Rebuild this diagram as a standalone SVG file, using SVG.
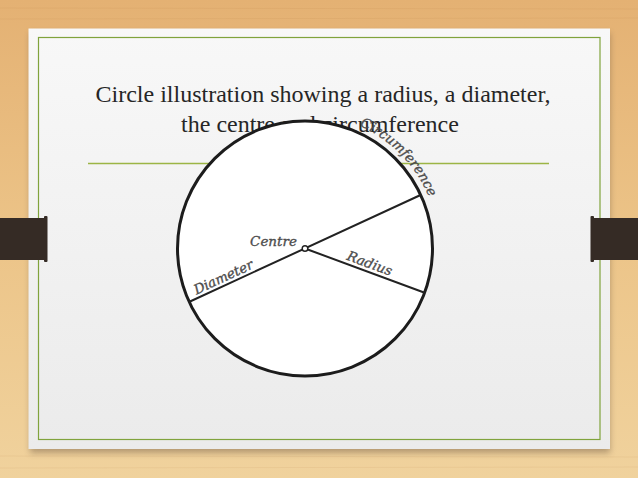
<svg xmlns="http://www.w3.org/2000/svg" width="638" height="478" viewBox="0 0 638 478">
  <defs>
    <linearGradient id="wood" x1="0" y1="0" x2="0" y2="1">
      <stop offset="0" stop-color="#e4b173"/>
      <stop offset="0.5" stop-color="#ecc488"/>
      <stop offset="1" stop-color="#f0d29d"/>
    </linearGradient>
    <linearGradient id="paper" x1="0" y1="0" x2="0" y2="1">
      <stop offset="0" stop-color="#f8f8f8"/>
      <stop offset="1" stop-color="#ebebeb"/>
    </linearGradient>
    <filter id="blur" x="-10%" y="-10%" width="120%" height="120%">
      <feGaussianBlur stdDeviation="3"/>
    </filter>
    <path id="circPath" d="M 346.4 120.6 A 134 134 0 0 1 437 224.7"/>
    <style>
      .title { font-family: "Liberation Serif", "Times New Roman", serif; font-size: 24px; fill: #262626; }
      .lbl { font-family: "DejaVu Serif", "Liberation Serif", serif; font-style: italic; font-size: 13.5px; fill: #4d4d4d; stroke: #4d4d4d; stroke-width: 0.35; }
      .seg { stroke: #222222; stroke-width: 2; fill: none; stroke-linecap: round; }
      .tab { fill: #352b25; }
    </style>
  </defs>

  <!-- background -->
  <rect x="0" y="0" width="638" height="478" fill="url(#wood)"/>
  <g opacity="0.08" stroke="#a0642a" stroke-width="1">
    <line x1="0" y1="8" x2="638" y2="9"/>
    <line x1="0" y1="19" x2="638" y2="18"/>
    <line x1="0" y1="456" x2="638" y2="457"/>
    <line x1="0" y1="468" x2="638" y2="467"/>
  </g>

  <!-- paper -->
  <rect x="30" y="33" width="580" height="420" fill="#6b5540" opacity="0.45" filter="url(#blur)"/>
  <rect x="28.5" y="28.5" width="581.5" height="420.5" fill="url(#paper)"/>
  <rect x="38.5" y="37.5" width="561.5" height="402" fill="none" stroke="#80a33c" stroke-width="1.2"/>

  <!-- title -->
  <g id="title">
    <text class="title" x="323" y="102" text-anchor="middle">Circle illustration showing a radius, a diameter,</text>
    <text class="title" x="320" y="132" text-anchor="middle">the centre and circumference</text>
    <line x1="88" y1="163.5" x2="549" y2="163.5" stroke="#9cb545" stroke-width="1.5"/>
  </g>

  <!-- tabs -->
  <g id="tab-left">
    <rect class="tab" x="0" y="218" width="46" height="42"/>
    <rect class="tab" x="44" y="216" width="3.5" height="46" rx="1"/>
  </g>
  <g id="tab-right">
    <rect class="tab" x="592" y="218" width="46" height="42"/>
    <rect class="tab" x="590.5" y="216" width="3.5" height="46" rx="1"/>
  </g>

  <!-- circle -->
  <g id="circle">
    <circle cx="305" cy="248.5" r="127.5" fill="#ffffff" stroke="#1c1c1c" stroke-width="3"/>
  </g>

  <g id="connectors">
    <line class="seg" x1="190" y1="301.5" x2="419.5" y2="195.5"/>
    <line class="seg" x1="305" y1="248.5" x2="424" y2="292.5"/>
  </g>

  <g id="centre">
    <circle cx="305" cy="248.5" r="2.8" fill="#ffffff" stroke="#222222" stroke-width="1.4"/>
    <text class="lbl" x="273.5" y="245.5" text-anchor="middle">Centre</text>
  </g>

  <g id="diameter">
    <text class="lbl" transform="translate(227 284.9) rotate(-25)" x="0" y="-4" text-anchor="middle">Diameter</text>
  </g>

  <g id="radius">
    <text class="lbl" transform="translate(366.7 271.5) rotate(20.2)" x="0" y="-4" text-anchor="middle">Radius</text>
  </g>

  <g id="circumference">
    <text class="lbl"><textPath href="#circPath" startOffset="65" text-anchor="middle">Circumference</textPath></text>
  </g>
</svg>
